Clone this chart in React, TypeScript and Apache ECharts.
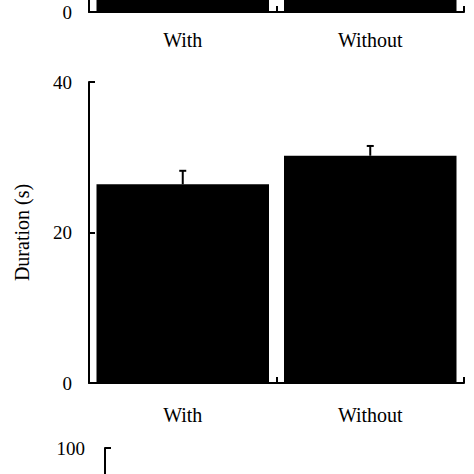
import React, { useEffect, useRef } from "react";
import * as echarts from "echarts";

const categories = ["With", "Without"];
// Middle panel: duration (s)
const durationMeans = [26.4, 30.2];
const durationErrors = [1.8, 1.3];
const durationMax = 40;
const durationInterval = 20;
// Top panel (only its base is visible in the crop)
const topMeans = [30, 30];
const topMax = 40;
const topInterval = 20;
const topVisibleTick = 0;
// Bottom panel (only the top of its axis is visible)
const bottomMax = 100;
const bottomInterval = 20;
const bottomVisibleTick = 100;

const FONT = "Liberation Serif";
const BLACK = "#000";

export default function App() {
  const ref = useRef<HTMLDivElement>(null);
  useEffect(() => {
    if (!ref.current) return;
    const chart = echarts.init(ref.current, undefined, { renderer: "svg" });

    const axisLine = { show: true, lineStyle: { color: BLACK, width: 2 } };
    const xAxisBase = (gridIndex: number, margin: number, showLabel = true) => ({
      type: "category" as const,
      gridIndex,
      data: categories,
      axisLine,
      axisTick: { show: true, inside: true, length: 6, lineStyle: { color: BLACK, width: 2 } },
      axisLabel: { show: showLabel, color: BLACK, fontFamily: FONT, fontSize: 20, margin },
      splitLine: { show: false },
    });
    const yAxisBase = (
      gridIndex: number,
      max: number,
      interval: number,
      margin: number,
      only?: number
    ) => ({
      type: "value" as const,
      gridIndex,
      min: 0,
      max,
      interval,
      axisLine,
      axisTick: { show: true, inside: true, length: 6, lineStyle: { color: BLACK, width: 2 } },
      axisLabel: {
        color: BLACK,
        fontFamily: FONT,
        fontSize: 19,
        margin,
        formatter: (v: number) => (only === undefined || v === only ? String(v) : ""),
      },
      splitLine: { show: false },
    });

    const errData = categories.map((_, i) => [i, durationMeans[i], durationMeans[i] + durationErrors[i]]);

    chart.setOption({
      animation: false,
      backgroundColor: "#fff",
      grid: [
        { left: 89, width: 375, top: -288, height: 300, outerBoundsMode: "none", containLabel: false },
        { left: 89, width: 375, top: 82, height: 301, outerBoundsMode: "none", containLabel: false },
        { left: 105, width: 359, top: 448, height: 300, outerBoundsMode: "none", containLabel: false },
      ],
      xAxis: [
        xAxisBase(0, 18),
        xAxisBase(1, 22),
        xAxisBase(2, 22, false),
      ],
      yAxis: [
        yAxisBase(0, topMax, topInterval, 17, topVisibleTick),
        {
          ...yAxisBase(1, durationMax, durationInterval, 17),
          name: "Duration (s)",
          nameLocation: "middle",
          nameGap: 57,
          nameTextStyle: { color: BLACK, fontFamily: FONT, fontSize: 20 },
        },
        yAxisBase(2, bottomMax, bottomInterval, 20, bottomVisibleTick),
      ],
      series: [
        {
          type: "bar",
          xAxisIndex: 0,
          yAxisIndex: 0,
          data: topMeans,
          barCategoryGap: "8%",
          itemStyle: { color: BLACK },
        },
        {
          type: "bar",
          xAxisIndex: 1,
          yAxisIndex: 1,
          data: durationMeans,
          barCategoryGap: "8%",
          itemStyle: { color: BLACK },
        },
        {
          type: "custom",
          xAxisIndex: 1,
          yAxisIndex: 1,
          z: 5,
          data: errData,
          encode: { x: 0, y: [1, 2] },
          renderItem: (params: any, api: any) => {
            const x = api.value(0);
            const low = api.coord([x, api.value(1)]);
            const high = api.coord([x, api.value(2)]);
            const style = { stroke: BLACK, lineWidth: 2 };
            return {
              type: "group",
              children: [
                { type: "line", shape: { x1: low[0], y1: low[1], x2: high[0], y2: high[1] }, style },
                { type: "line", shape: { x1: high[0] - 3.5, y1: high[1], x2: high[0] + 3.5, y2: high[1] }, style },
              ],
            };
          },
        },
      ],
    });
    return () => chart.dispose();
  }, []);

  return (
    <div
      ref={ref}
      style={{ position: "fixed", left: 0, top: 0, width: 474, height: 474, background: "#fff" }}
    />
  );
}
